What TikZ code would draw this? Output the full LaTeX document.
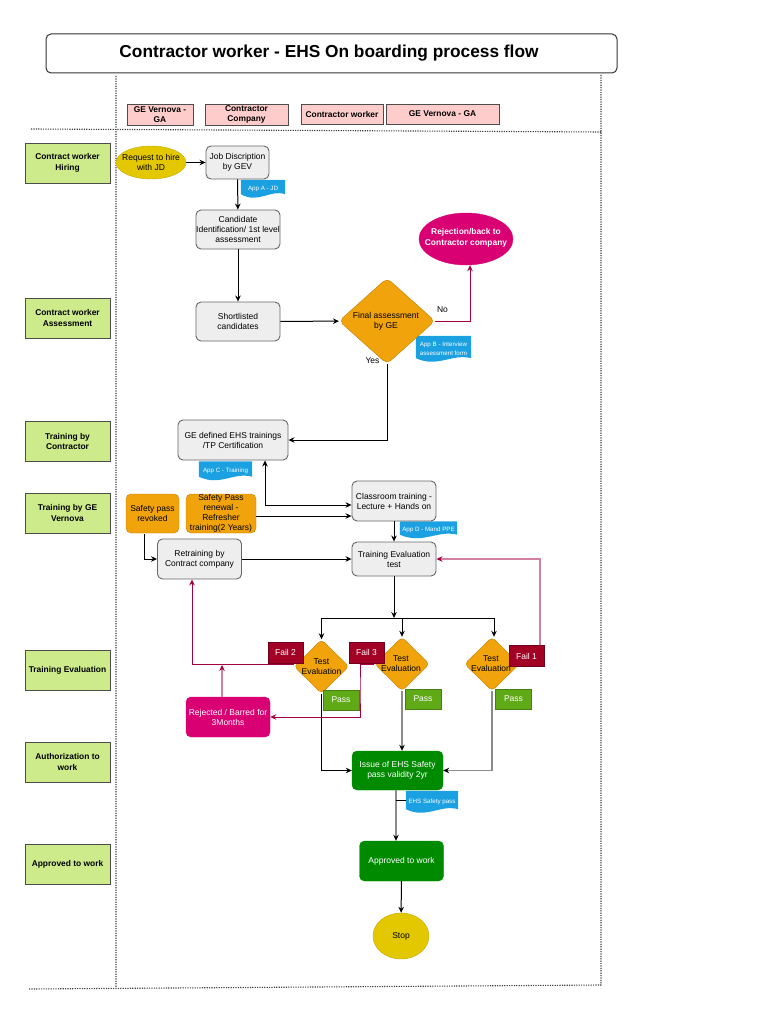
\documentclass[tikz,border=0pt]{standalone}
\usepackage{fontspec}
\setmainfont{Liberation Sans}
\usetikzlibrary{shapes,backgrounds,calc,arrows.meta}
\definecolor{lanegreen}{HTML}{CDEB8B}
\definecolor{headpink}{HTML}{FFCCCC}
\definecolor{boxgray}{HTML}{EEEEEE}
\definecolor{stepyellow}{HTML}{E3C800}
\definecolor{steporange}{HTML}{F0A30A}
\definecolor{rejectpink}{HTML}{D80073}
\definecolor{failred}{HTML}{A20025}
\definecolor{passgreen}{HTML}{60A917}
\definecolor{okgreen}{HTML}{008A00}
\definecolor{appblue}{HTML}{1BA1E2}
\definecolor{failline}{HTML}{A50040}
\tikzstyle{base}=[inner sep=0pt,align=center,font=\fontsize{8.5}{10}\selectfont]
\tikzstyle{boldface}=[font=\fontsize{8.4}{10.5}\selectfont\bfseries]
\tikzstyle{lane}=[base,boldface,draw=black!70,line width=.9pt,fill=lanegreen,minimum width=85pt,minimum height=40pt]
\tikzstyle{head}=[base,boldface,draw=black!70,line width=.9pt,fill=headpink,minimum height=21pt]
\tikzstyle{box}=[base,draw=black!60,line width=.9pt,fill=boxgray,rounded corners=5pt,minimum width=84pt,minimum height=40pt]
\tikzstyle{orange}=[base,draw=steporange!80!black,fill=steporange,rounded corners=5pt,minimum height=39pt]
\tikzstyle{blob}=[base,ellipse,draw=stepyellow!85!black,fill=stepyellow]
\tikzstyle{reject}=[base,draw=rejectpink,fill=rejectpink,text=white]
\tikzstyle{ok}=[base,draw=okgreen,fill=okgreen,text=white,rounded corners=5pt,minimum width=84pt,minimum height=40pt]
\tikzstyle{test}=[base,diamond,draw=steporange!80!black,fill=steporange,rounded corners=4pt,minimum width=55pt,minimum height=54pt]
\tikzstyle{fail}=[base,draw=failred!70!black,fill=failred,text=white,minimum width=35pt,minimum height=21pt]
\tikzstyle{pass}=[base,draw=passgreen!75!black,fill=passgreen,text=white,minimum width=36pt,minimum height=20pt]
\tikzstyle{app}=[base,text=white,font=\fontsize{6.2}{9}\selectfont]
\tikzstyle{line}=[-{Stealth[length=6pt,width=5.5pt]},line width=1pt]
\tikzstyle{greyline}=[-{Stealth[length=6pt,width=5.5pt,black]},line width=1.2pt,black!45]
\tikzstyle{redline}=[-{Stealth[length=6pt,width=5.5pt]},line width=1pt,failline]
\tikzstyle{fadeline}=[-{Stealth[length=6pt,width=5.5pt,failline]},line width=1.2pt,failline!50]
\tikzstyle{border}=[black!75,line width=1.1pt,dash pattern=on 1.2pt off 1.2pt]
\begin{document}
\begin{tikzpicture}[>=stealth,x=1pt,y=-1pt]
  \useasboundingbox (0,0) rectangle (768,1024);

  \node[base,draw=black!80,line width=1pt,rounded corners=5pt,minimum width=571pt,minimum height=39pt,
    font=\fontsize{17.3}{20}\selectfont\bfseries] (title) at (331.5,53.5)
    {\hspace*{-5pt}Contractor worker - EHS On boarding process flow};

  % page frame
  \coordinate (ftl) at (116,76);
  \coordinate (ftr) at (601,75);
  \coordinate (fbl) at (28,989);
  \coordinate (fbr) at (601,985);
  \coordinate (hl) at (31,129);
  \coordinate (hr) at (601,132);
  \draw[border] (ftl) -- (ftl |- fbl) (ftr) -- (fbr) -- (fbl) (hl) -- (hr);

  % lanes
  \node[lane] (l1) at (67.5,163) {Contract worker\\Hiring};
  \node[lane] (l2) at (67.5,318) {Contract worker\\Assessment};
  \node[lane] (l3) at (67.5,441.5) {Training by\\Contractor};
  \node[lane] (l4) at (67.5,513) {Training by GE\\Vernova};
  \node[lane] (l5) at (67.5,670) {Training Evaluation};
  \node[lane] (l6) at (67.5,762) {Authorization to\\work};
  \node[lane] (l7) at (67.5,864) {Approved to work};

  \node[head,minimum width=66pt] (h1) at (160,114.5) {GE Vernova -\\GA};
  \node[head,minimum width=83pt] (h2) at (246.5,114.5) {Contractor\\Company};
  \node[head,minimum width=82pt,minimum height=20pt] (h3) at (342,114) {Contractor worker};
  \node[head,minimum width=113pt,minimum height=20pt] (h4) at (442.5,114) {GE Vernova - GA};

  % steps
  \node[blob,minimum width=70pt,minimum height=33pt,label={[base]center:Request to hire\\with JD}] (req) at (151,162.5) {};
  \node[box,minimum width=63pt,minimum height=33pt] (job) at (237.5,162.5) {Job Discription\\by GEV};
  \node[box,minimum height=39pt] (cand) at (238,229.5) {Candidate\\Identification/ 1st level\\assessment};
  \node[box,minimum height=39pt] (short) at (238,321.5) {Shortlisted\\candidates};
  \node[test,minimum width=96pt,minimum height=86pt,rounded corners=5pt,
    label={[base,xshift=-1pt]center:Final assessment\\by GE}] (final) at (387,321) {};
  \node[reject,ellipse,minimum width=94pt,minimum height=52pt,
    label={[base,boldface,text=white,yshift=1pt]center:Rejection/back to\\Contractor company}] (rej) at (466,239) {};
  \node[base] (no) at (442.5,310) {No};
  \node[base] (yes) at (372.5,361) {Yes};

  \node[box,minimum width=110pt] (gedef) at (233,440) {GE defined EHS trainings\\/TP Certification};
  \node[orange,minimum width=53pt] (revoked) at (152.5,513.5) {Safety pass\\revoked};
  \node[orange,minimum width=70pt] (renew) at (221,513.5) {Safety Pass\\renewal -\\Refresher\\training(2 Years)};
  \node[box] (classroom) at (394,501) {Classroom training -\\Lecture + Hands on};
  \node[box,minimum height=40pt] (retrain) at (199.5,559) {Retraining by\\Contract company};
  \node[box,minimum height=34pt] (training) at (394,559) {Training Evaluation\\test};

  \coordinate (split) at (394,618);
  \node[test,label={[base]center:Test\\Evaluation}] (d2) at (321.5,666.5) {};
  \node[test,label={[base,xshift=-1pt]center:Test\\Evaluation}] (d3) at (402,664) {};
  \node[test,label={[base,xshift=-1pt]center:Test\\Evaluation}] (d1) at (492,664) {};
  \node[fail] (f2) at (285.5,652.5) {Fail 2};
  \node[fail] (f3) at (366.5,652.5) {Fail 3};
  \node[fail] (f1) at (526.5,656) {Fail 1};
  \node[pass] (p2) at (341,700) {Pass};
  \node[pass] (p3) at (423,699) {Pass};
  \node[pass] (p1) at (513.5,699) {Pass};
  \node[reject,rounded corners=5pt,minimum width=84pt,minimum height=40pt] (rejected) at (228,717) {Rejected / Barred for\\3Months};
  \node[ok,minimum width=91pt,minimum height=39pt] (issue) at (397.5,770.5) {Issue of EHS Safety\\pass validity 2yr};
  \node[ok] (approved) at (401.5,861) {Approved to work};
  \node[blob,minimum width=56pt,minimum height=46pt] (stop) at (401,936) {Stop};

  % documents
  \node[app,minimum width=44pt,minimum height=18pt] (appa) at (263,189) {App A - JD};
  \node[app,minimum width=55pt,minimum height=26pt] (appb) at (443.5,349) {App B - Interview\\assessment form};
  \node[app,minimum width=53pt,minimum height=19pt] (appc) at (225.5,471) {App C - Training};
  \node[app,minimum width=57pt,minimum height=17pt] (appd) at (428.5,530) {App D - Mand PPE};
  \node[app,minimum width=52pt,minimum height=22pt] (ehspass) at (432,802) {EHS Safety pass};
  \begin{scope}[on background layer]
    \foreach \n in {appa,appb,appc,appd,ehspass}
      \fill[appblue] (\n.north west) -- (\n.north east) -- ($(\n.south east)+(0,-4)$)
        .. controls ($(\n.south west)!.65!(\n.south east)+(0,-9)$) and ($(\n.south west)!.4!(\n.south east)+(0,6)$)
        .. ($(\n.south west)+(0,-4)$) -- cycle;
  \end{scope}

  \draw[line] (req) -- (job);
  \draw[line] (job) -- (cand);
  \draw[line] (cand) -- (short);
  \draw[line] (short) -- (final);
  \draw[redline] (final.east) -| ([xshift=4pt]rej.south);
  \draw[line] (final.south) |- (gedef.east);
  \draw[{Stealth[length=6pt,width=5.5pt]}-{Stealth[length=6pt,width=5.5pt]},line width=1pt] ([xshift=32pt]gedef.south) |- ([yshift=-4pt]classroom.west);
  \draw[line] ([yshift=-2.5pt]renew.east) -- ([yshift=-15pt]classroom.west);
  \draw[line] ([xshift=-8.5pt]revoked.south) ++(0,1) |- (retrain.west);
  \draw[line] (retrain) -- (training);
  \draw[line] (classroom) -- (training);
  \draw[line] (training) -- (split);
  \draw[line] (split) -| (d2.north);
  \draw[line] (split) -| (d3.north);
  \draw[line] (split) -| ([xshift=2pt]d1.north);
  \draw[line] (d2.south) |- (issue.west);
  \draw[greyline] (d3.south) -- (d3.south |- issue.north);
  \draw[greyline] (d1.south) |- (issue.east);
  \draw[greyline] ([xshift=-1.5pt]issue.south) -- ([xshift=-5.5pt]approved.north);
  \draw[line] (approved) -- (stop);
  \coordinate (ehsjoin) at (396,800);
  \draw[line width=.8pt] (ehsjoin) -- (ehsjoin -| ehspass.west);

  \draw[fadeline] ([xshift=13.5pt]f1.north) |- (training.east);
  \draw[redline] ([yshift=2pt]d2.west) -| ([xshift=-7.5pt]retrain.south);
  \coordinate (merge) at (222,665);
  \draw[fadeline] (rejected.north -| merge) -- (merge);
  \coordinate (turn3) at (360,690);
  \draw[redline] (d3.west) -| (turn3) |- (rejected.east);
\end{tikzpicture}
\end{document}
